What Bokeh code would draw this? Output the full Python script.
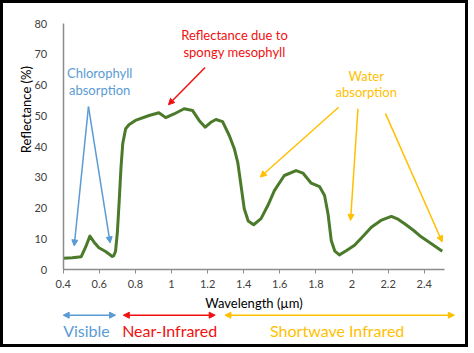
from bokeh.plotting import figure
from bokeh.models import Arrow, NormalHead, Label, FixedTicker
from bokeh.embed import file_html
from bokeh.resources import INLINE
from math import pi

# Spectral reflectance curve of green vegetation
wavelength = [0.40, 0.45, 0.50, 0.524, 0.548, 0.57, 0.598, 0.635, 0.672, 0.68, 0.69, 0.70,
              0.71, 0.72, 0.73, 0.746, 0.764, 0.80, 0.876, 0.93, 0.968, 1.014, 1.07,
              1.117, 1.153, 1.187, 1.218, 1.246, 1.283, 1.32, 1.348, 1.367, 1.385, 1.403,
              1.425, 1.455, 1.496, 1.535, 1.57, 1.625, 1.69, 1.728, 1.774, 1.82, 1.848,
              1.867, 1.885, 1.905, 1.93, 1.97, 2.014, 2.06, 2.107, 2.16, 2.218, 2.255,
              2.292, 2.34, 2.385, 2.45, 2.50]
reflectance = [3.7, 3.9, 4.2, 7.3, 10.9, 9.0, 7.1, 5.9, 4.3, 4.5, 6.0, 12.0,
               22.0, 33.0, 41.0, 45.8, 47.1, 48.5, 50.1, 51.0, 49.4, 50.6, 52.3,
               51.7, 48.5, 46.3, 47.9, 48.8, 48.1, 43.6, 39.3, 34.9, 27.4, 19.8,
               15.8, 14.6, 16.6, 21.0, 25.7, 30.6, 32.2, 31.4, 28.1, 27.0, 24.1,
               18.2, 9.5, 6.0, 4.8, 6.2, 7.9, 10.8, 13.8, 16.0, 17.3, 16.4,
               14.9, 12.8, 10.6, 8.0, 6.0]

x_ticks = [0.4, 0.6, 0.8, 1.0, 1.2, 1.4, 1.6, 1.8, 2.0, 2.2, 2.4]
x_tick_labels = ["0.4", "0.6", "0.8", "1", "1.2", "1.4", "1.6", "1.8", "2", "2.2", "2.4"]
y_ticks = [0, 10, 20, 30, 40, 50, 60, 70, 80]

# Annotation texts
chloro_text = ["Chlorophyll", "absorption"]
meso_text = ["Reflectance due to", "spongy mesophyll"]
water_text = ["Water", "absorption"]
band_names = ["Visible", "Near-Infrared", "Shortwave Infrared"]

BLUE = "#5b9bd5"
RED = "#f01010"
GOLD = "#ffc000"
GREEN = "#4b7a2a"
FONT = "Lato"

p = figure(width=468, height=347, x_range=(0.0693, 2.662), y_range=(-25.3, 86.5),
           output_backend="svg", toolbar_location=None,
           min_border_left=0, min_border_right=0, min_border_top=0, min_border_bottom=3,
           styles={"border": "3px solid black"})
p.grid.visible = False
p.outline_line_color = None
p.background_fill_color = "white"
p.border_fill_color = "white"

p.line(wavelength, reflectance, line_color=GREEN, line_width=3, line_join="round")

# axes
xa = p.xaxis[0]
xa.fixed_location = 0
xa.bounds = (0.4, 2.51)
xa.ticker = FixedTicker(ticks=x_ticks)
xa.major_label_overrides = {t: l for t, l in zip(x_ticks, x_tick_labels)}
xa.axis_line_color = "#8c8c8c"
xa.axis_line_width = 1.5
xa.major_tick_line_color = "#8c8c8c"
xa.major_tick_out = 4
xa.major_tick_in = 0
xa.minor_tick_line_color = None
xa.major_label_text_font = FONT
xa.major_label_text_font_size = "11px"
xa.major_label_text_color = "#404040"
xa.major_label_standoff = 6
xa.axis_label = "Wavelength (µm)"
xa.axis_label_text_font = FONT
xa.axis_label_text_font_size = "13px"
xa.axis_label_text_font_style = "normal"
xa.axis_label_text_color = "black"
xa.axis_label_standoff = 4

ya = p.yaxis[0]
ya.fixed_location = 0.4
ya.bounds = (0, 80)
ya.ticker = FixedTicker(ticks=y_ticks)
ya.axis_line_color = "#8c8c8c"
ya.axis_line_width = 1.5
ya.major_tick_line_color = None
ya.minor_tick_line_color = None
ya.major_label_text_font = FONT
ya.major_label_text_font_size = "11px"
ya.major_label_text_color = "#404040"
ya.major_label_standoff = 10

def lab(x, y, text, color, size="13px", angle=0):
    p.add_layout(Label(x=x, y=y, text=text, text_color=color, text_font=FONT,
                       text_font_size=size, text_align="center", text_baseline="middle",
                       angle=angle))

def arr(x0, y0, x1, y1, color, both=False):
    head = NormalHead(size=6, fill_color=color, line_color=color)
    start = NormalHead(size=6, fill_color=color, line_color=color) if both else None
    p.add_layout(Arrow(x_start=x0, y_start=y0, x_end=x1, y_end=y1, end=head, start=start,
                       line_color=color, line_width=1.5))

# y axis title
lab(0.196, 52, "Reflectance (%)", "black", "13px", pi / 2)

# chlorophyll
lab(0.602, 64.0, chloro_text[0], BLUE)
lab(0.602, 58.5, chloro_text[1], BLUE)
arr(0.54, 53.0, 0.461, 7.7, BLUE)
arr(0.54, 53.0, 0.66, 8.7, BLUE)

# mesophyll
lab(1.349, 76.4, meso_text[0], RED)
lab(1.349, 70.7, meso_text[1], RED)
arr(1.186, 65.7, 0.983, 53.6, RED)

# water
lab(2.079, 63.1, water_text[0], GOLD)
lab(2.079, 57.7, water_text[1], GOLD)
arr(1.926, 52.8, 1.492, 30.1, GOLD)
arr(2.033, 52.3, 1.992, 16.0, GOLD)
arr(2.185, 50.8, 2.50, 9.0, GOLD)

# spectral bands below the axis
arr(0.40, -14.8, 0.69, -14.8, BLUE, both=True)
arr(0.733, -14.8, 1.242, -14.8, RED, both=True)
arr(1.296, -14.8, 2.567, -14.8, GOLD, both=True)
lab(0.529, -19.9, band_names[0], BLUE, "16px")
lab(0.99, -19.9, band_names[1], RED, "16px")
lab(1.918, -19.9, band_names[2], GOLD, "16px")

open("out.html", "w").write(file_html(p, INLINE))
